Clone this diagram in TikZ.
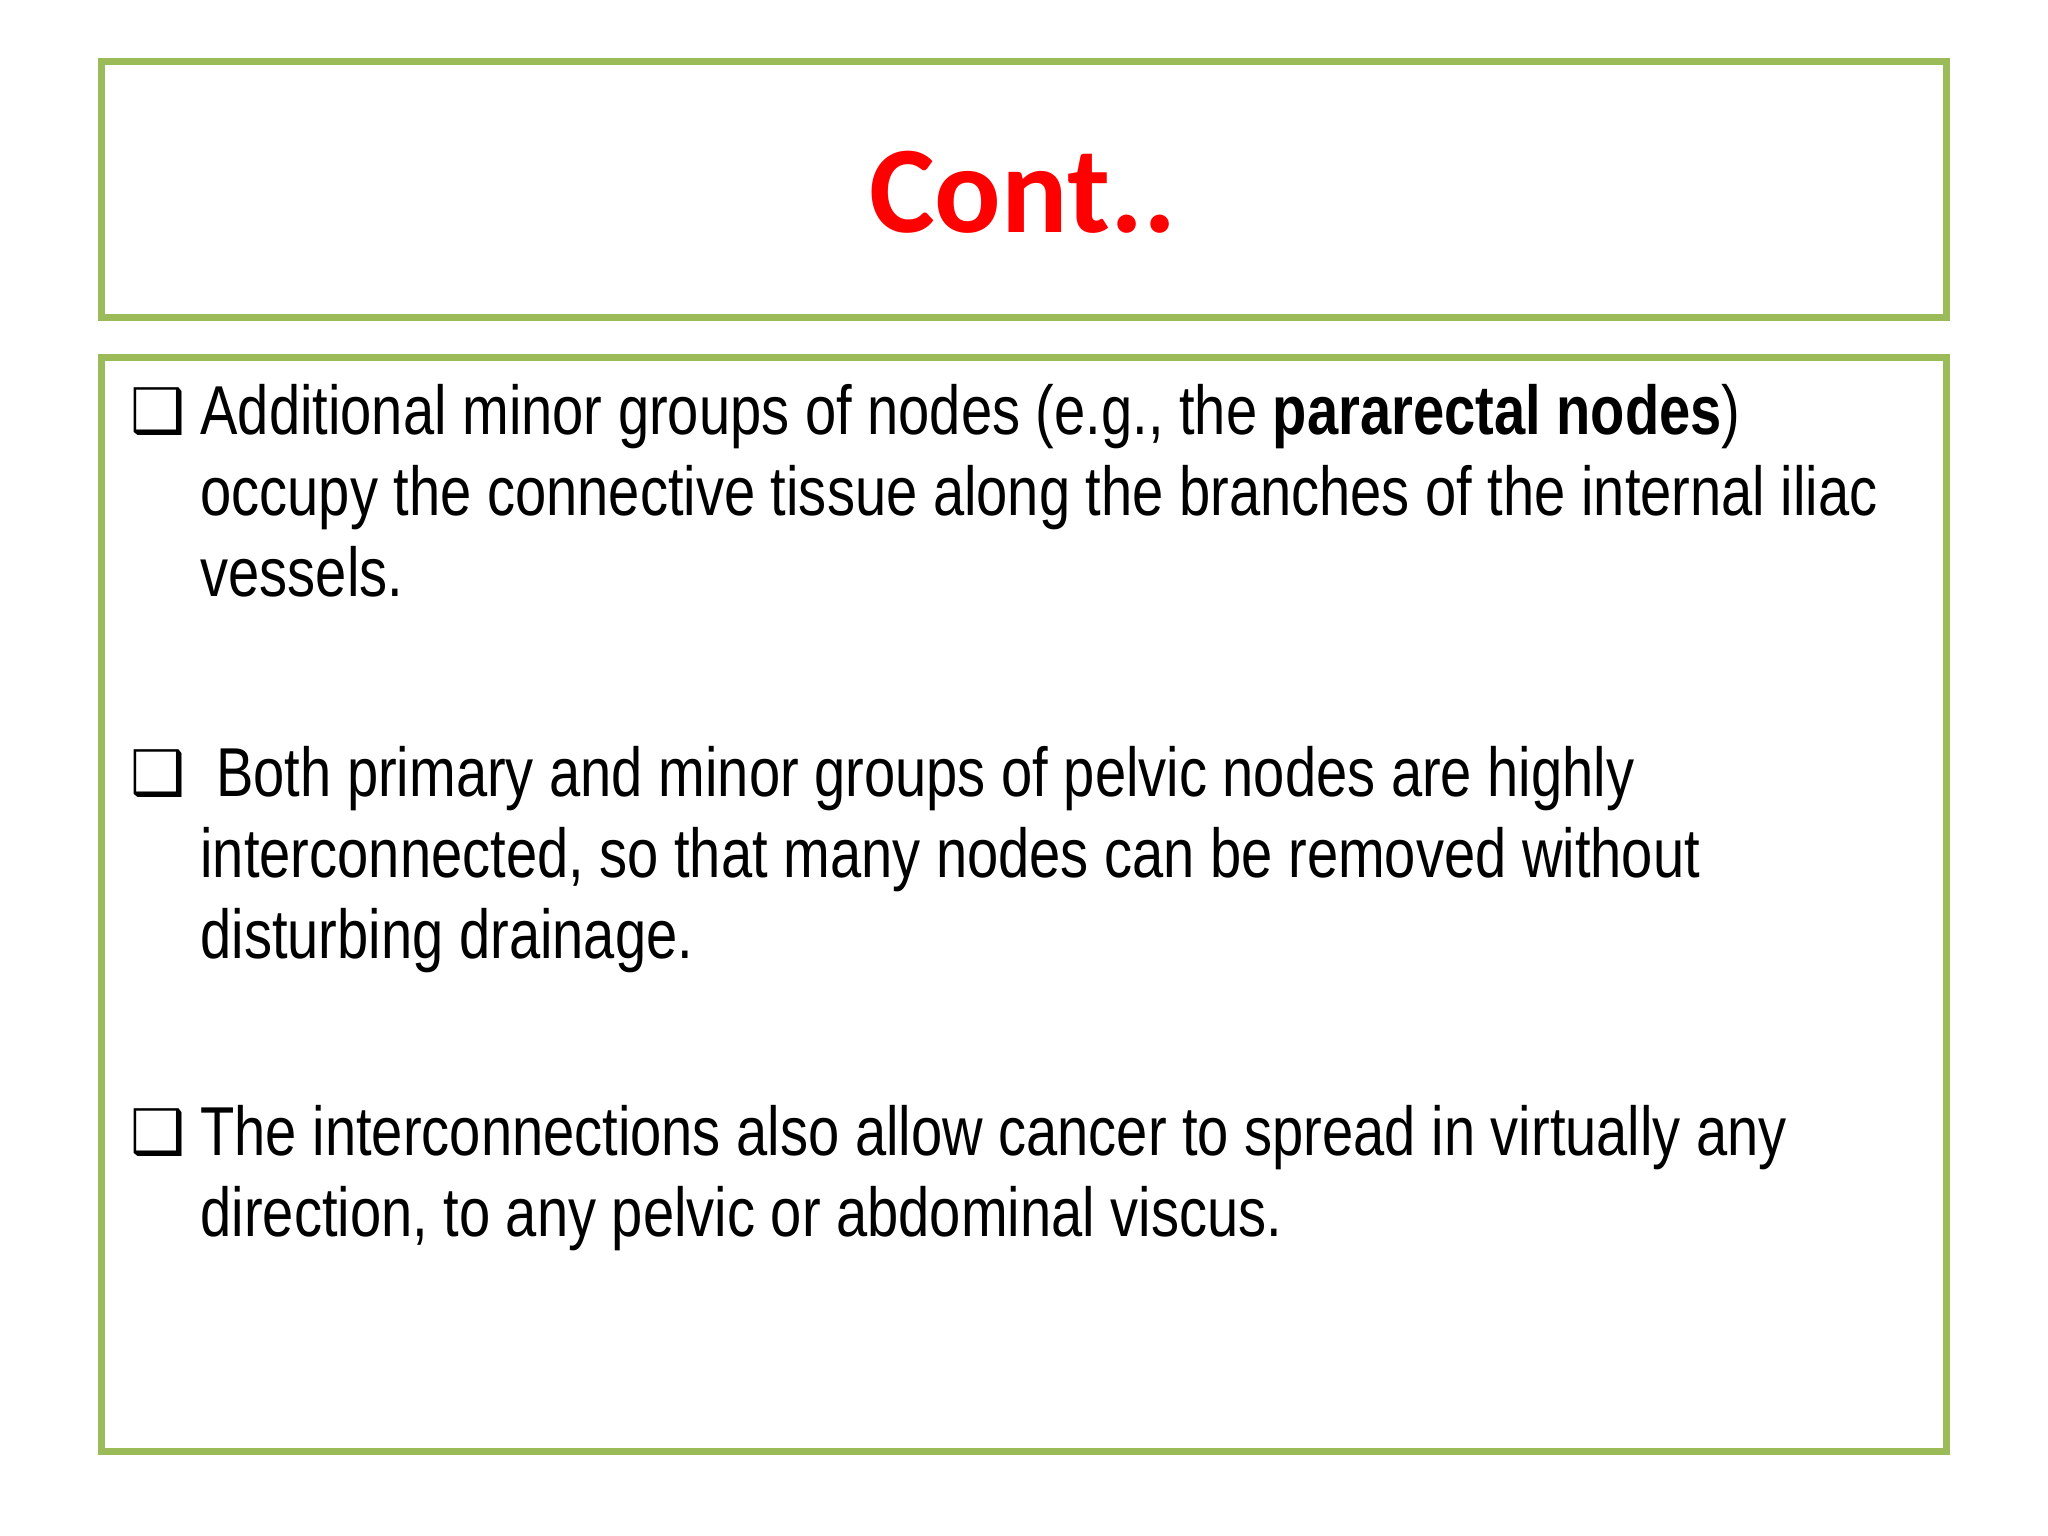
\documentclass[tikz,border=0pt]{standalone}
\usepackage{fontspec}
\setmainfont{Liberation Sans}[FakeStretch=0.81]
\newfontfamily\titlefont{Carlito}
\newfontfamily\symfont{DejaVu Sans}
\definecolor{frame}{RGB}{155,187,89}
\definecolor{titlered}{RGB}{255,0,0}
\tikzset{
  box/.style={draw=frame,line width=2pt},
  ln/.style={anchor=base west,inner sep=0pt,font=\fontsize{19.7pt}{23pt}\selectfont},
  bul/.style={anchor=base west,inner sep=0pt,font=\symfont\fontsize{17.5pt}{23pt}\selectfont}
}
\begin{document}
\begin{tikzpicture}[x=0.013061cm,y=-0.013061cm]
\useasboundingbox[fill=white] (0,0) rectangle (1568,1176);
\draw[box] (78,47) rectangle (1490,243);
\draw[box] (78,274) rectangle (1490,1111);
\node[anchor=base,inner sep=0pt,text=titlered,font=\titlefont\bfseries\fontsize{35.3pt}{40pt}\selectfont] (title) at (783,178) {Cont..};
\node[bul] (b1) at (99,331) {❑};
\node[ln] (l1) at (153,333) {Additional minor groups of nodes (e.g., the \textbf{pararectal nodes})};
\node[ln] (l2) at (153,395) {occupy the connective tissue along the branches of the internal iliac};
\node[ln] (l3) at (153,457) {vessels.};
\node[bul] (b2) at (99,608) {❑};
\node[ln] (l4) at (153,610) {\ Both primary and minor groups of pelvic nodes are highly};
\node[ln] (l5) at (153,672) {interconnected, so that many nodes can be removed without};
\node[ln] (l6) at (153,734) {disturbing drainage.};
\node[bul] (b3) at (99,883) {❑};
\node[ln] (l7) at (153,885) {The interconnections also allow cancer to spread in virtually any};
\node[ln] (l8) at (153,947) {direction, to any pelvic or abdominal viscus.};
\end{tikzpicture}
\end{document}
